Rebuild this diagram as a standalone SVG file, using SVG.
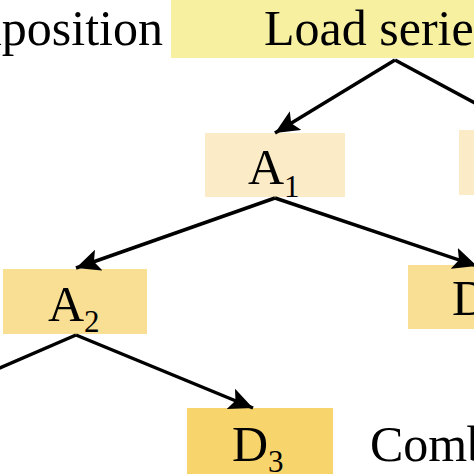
<svg xmlns="http://www.w3.org/2000/svg" width="474" height="474" viewBox="0 0 474 474">
  <style>
    .t { font-family: "Liberation Serif", "Times New Roman", serif; font-size: 50px; fill: #000; }
    .sub { font-size: 31px; }
    .edge { stroke: #000; stroke-width: 3.5; fill: none; }
    .l0 { fill: #F7F0A0; }
    .l1 { fill: #FBEBC6; }
    .l2 { fill: #F8DF94; }
    .l3 { fill: #F8D46C; }
  </style>
  <defs>
    <marker id="arr" markerUnits="userSpaceOnUse" markerWidth="26" markerHeight="22" refX="24" refY="11" orient="auto">
      <path d="M0,0 L24,11 L0,22 L5,11 z" fill="#000"/>
    </marker>
  </defs>
  <rect width="474" height="474" fill="#fff"/>

  <text class="t" x="163" y="45" text-anchor="end">Decomposition</text>
  <text class="t" x="370" y="461">Combination</text>

  <g id="load">
    <rect class="l0" x="171" y="-10" width="360" height="68"/>
    <text class="t" x="264" y="45">Load series</text>
  </g>
  <g id="A1">
    <rect class="l1" x="205" y="133" width="140" height="64"/>
    <text class="t" x="248" y="184">A<tspan class="sub" dy="13">1</tspan></text>
  </g>
  <g id="D1">
    <rect class="l1" x="459" y="130" width="140" height="65"/>
    <text class="t" x="505" y="181">D<tspan class="sub" dy="13">1</tspan></text>
  </g>
  <g id="A2">
    <rect class="l2" x="3" y="269" width="144" height="65"/>
    <text class="t" x="48" y="321">A<tspan class="sub" dy="11">2</tspan></text>
  </g>
  <g id="D2">
    <rect class="l2" x="408" y="265" width="144" height="64"/>
    <text class="t" x="452" y="315">D<tspan class="sub" dy="11">2</tspan></text>
  </g>
  <g id="D3">
    <rect class="l3" x="187" y="408" width="146" height="70"/>
    <text class="t" x="232" y="461">D<tspan class="sub" dy="11">3</tspan></text>
  </g>

  <g id="connectors">
    <path class="edge" d="M395,60 L275,133" marker-end="url(#arr)"/>
    <path class="edge" d="M395,60 L525,130" marker-end="url(#arr)"/>
    <path class="edge" d="M275,198 L76,268" marker-end="url(#arr)"/>
    <path class="edge" d="M275,198 L477,266" marker-end="url(#arr)"/>
    <path class="edge" d="M76,335 L253,408" marker-end="url(#arr)"/>
    <path class="edge" d="M76,335 L-120,420"/>
  </g>
</svg>
